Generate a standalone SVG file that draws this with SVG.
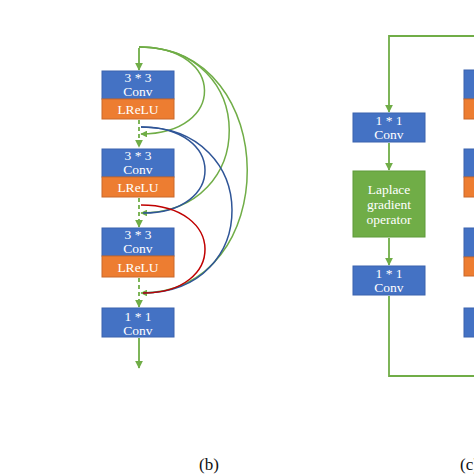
<svg xmlns="http://www.w3.org/2000/svg" width="474" height="474" viewBox="0 0 474 474">
<defs>
<marker id="ag" viewBox="0 0 10 10" refX="9" refY="5" markerWidth="4.5" markerHeight="4.5" orient="auto"><path d="M0,0 L10,5 L0,10 z" fill="#70AD47"/></marker>
<style>
.blue{fill:#4472C4;stroke:#3A63AE;stroke-width:1}
.orange{fill:#ED7D31;stroke:#C9692A;stroke-width:1}
.green{fill:#70AD47;stroke:#5E9A3A;stroke-width:1}
.t{font-family:"Liberation Serif",serif;font-size:13.5px;fill:#ffffff;text-anchor:middle}
.lab{font-family:"Liberation Serif",serif;font-size:17px;fill:#111111}
.ln{fill:none;stroke:#70AD47;stroke-width:1.8}
.dash{fill:none;stroke:#70AD47;stroke-width:1.8;stroke-dasharray:4,3}
.cg{fill:none;stroke:#70AD47;stroke-width:1.5}
.cb{fill:none;stroke:#2F5597;stroke-width:1.5}
.cr{fill:none;stroke:#C00000;stroke-width:1.5}
</style>
</defs>
<rect width="474" height="474" fill="#ffffff"/>
<g id="connectors">
<line class="ln" x1="139" y1="48" x2="139" y2="70" marker-end="url(#ag)"/>
<line class="dash" x1="139" y1="120" x2="139" y2="147" marker-end="url(#ag)"/>
<line class="dash" x1="139" y1="198" x2="139" y2="227" marker-end="url(#ag)"/>
<line class="dash" x1="139" y1="278" x2="139" y2="307" marker-end="url(#ag)"/>
<line class="ln" x1="139" y1="338" x2="139" y2="368" marker-end="url(#ag)"/>
<path class="cg" d="M139,47 C226,47 226,134 141,134" marker-end="url(#ag)"/>
<path class="cg" d="M139,47 C259,47 259,213 141,213" marker-end="url(#ag)"/>
<path class="cg" d="M139,47 C283,47 283,293 141,293" marker-end="url(#ag)"/>
<path class="cb" d="M141,127 C226,127 226,213 143,213"/>
<path class="cb" d="M141,127 C262,127 262,293 143,293"/>
<path class="cr" d="M141,205 C226,205 226,293 143,293"/>
<polyline class="ln" points="474,36 389,36 389,112" marker-end="url(#ag)"/>
<line class="ln" x1="389" y1="143" x2="389" y2="170" marker-end="url(#ag)"/>
<line class="ln" x1="389" y1="238" x2="389" y2="265" marker-end="url(#ag)"/>
<polyline class="ln" points="389,296 389,376 474,376"/>
</g>
<g id="b-conv1">
<rect class="blue" x="102" y="71" width="72" height="28"/>
<rect class="orange" x="102" y="99" width="72" height="20"/>
<text class="t" x="138" y="82">3 * 3</text>
<text class="t" x="138" y="96">Conv</text>
<text class="t" x="138" y="114">LReLU</text>
</g>
<g id="b-conv2">
<rect class="blue" x="102" y="149" width="72" height="28"/>
<rect class="orange" x="102" y="177" width="72" height="20"/>
<text class="t" x="138" y="160">3 * 3</text>
<text class="t" x="138" y="174">Conv</text>
<text class="t" x="138" y="192">LReLU</text>
</g>
<g id="b-conv3">
<rect class="blue" x="102" y="228" width="72" height="28"/>
<rect class="orange" x="102" y="256" width="72" height="21"/>
<text class="t" x="138" y="239">3 * 3</text>
<text class="t" x="138" y="253">Conv</text>
<text class="t" x="138" y="272">LReLU</text>
</g>
<g id="b-conv4">
<rect class="blue" x="102" y="308" width="72" height="29"/>
<text class="t" x="138" y="321">1 * 1</text>
<text class="t" x="138" y="335">Conv</text>
</g>
<g id="c-conv1">
<rect class="blue" x="353" y="113" width="72" height="29"/>
<text class="t" x="389" y="125">1 * 1</text>
<text class="t" x="389" y="139">Conv</text>
</g>
<g id="c-laplace">
<rect class="green" x="353" y="171" width="72" height="66"/>
<text class="t" x="389" y="194">Laplace</text>
<text class="t" x="389" y="209">gradient</text>
<text class="t" x="389" y="224">operator</text>
</g>
<g id="c-conv2">
<rect class="blue" x="353" y="266" width="72" height="29"/>
<text class="t" x="389" y="278">1 * 1</text>
<text class="t" x="389" y="292">Conv</text>
</g>
<g id="d-partial">
<rect class="blue" x="464" y="70" width="20" height="29"/>
<rect class="orange" x="464" y="99" width="20" height="20"/>
<rect class="blue" x="464" y="149" width="20" height="28"/>
<rect class="orange" x="464" y="177" width="20" height="20"/>
<rect class="blue" x="464" y="228" width="20" height="29"/>
<rect class="orange" x="464" y="257" width="20" height="19"/>
<rect class="blue" x="464" y="308" width="20" height="29"/>
</g>
<text class="lab" x="199" y="470">(b)</text>
<text class="lab" x="460" y="470">(c)</text>
</svg>
